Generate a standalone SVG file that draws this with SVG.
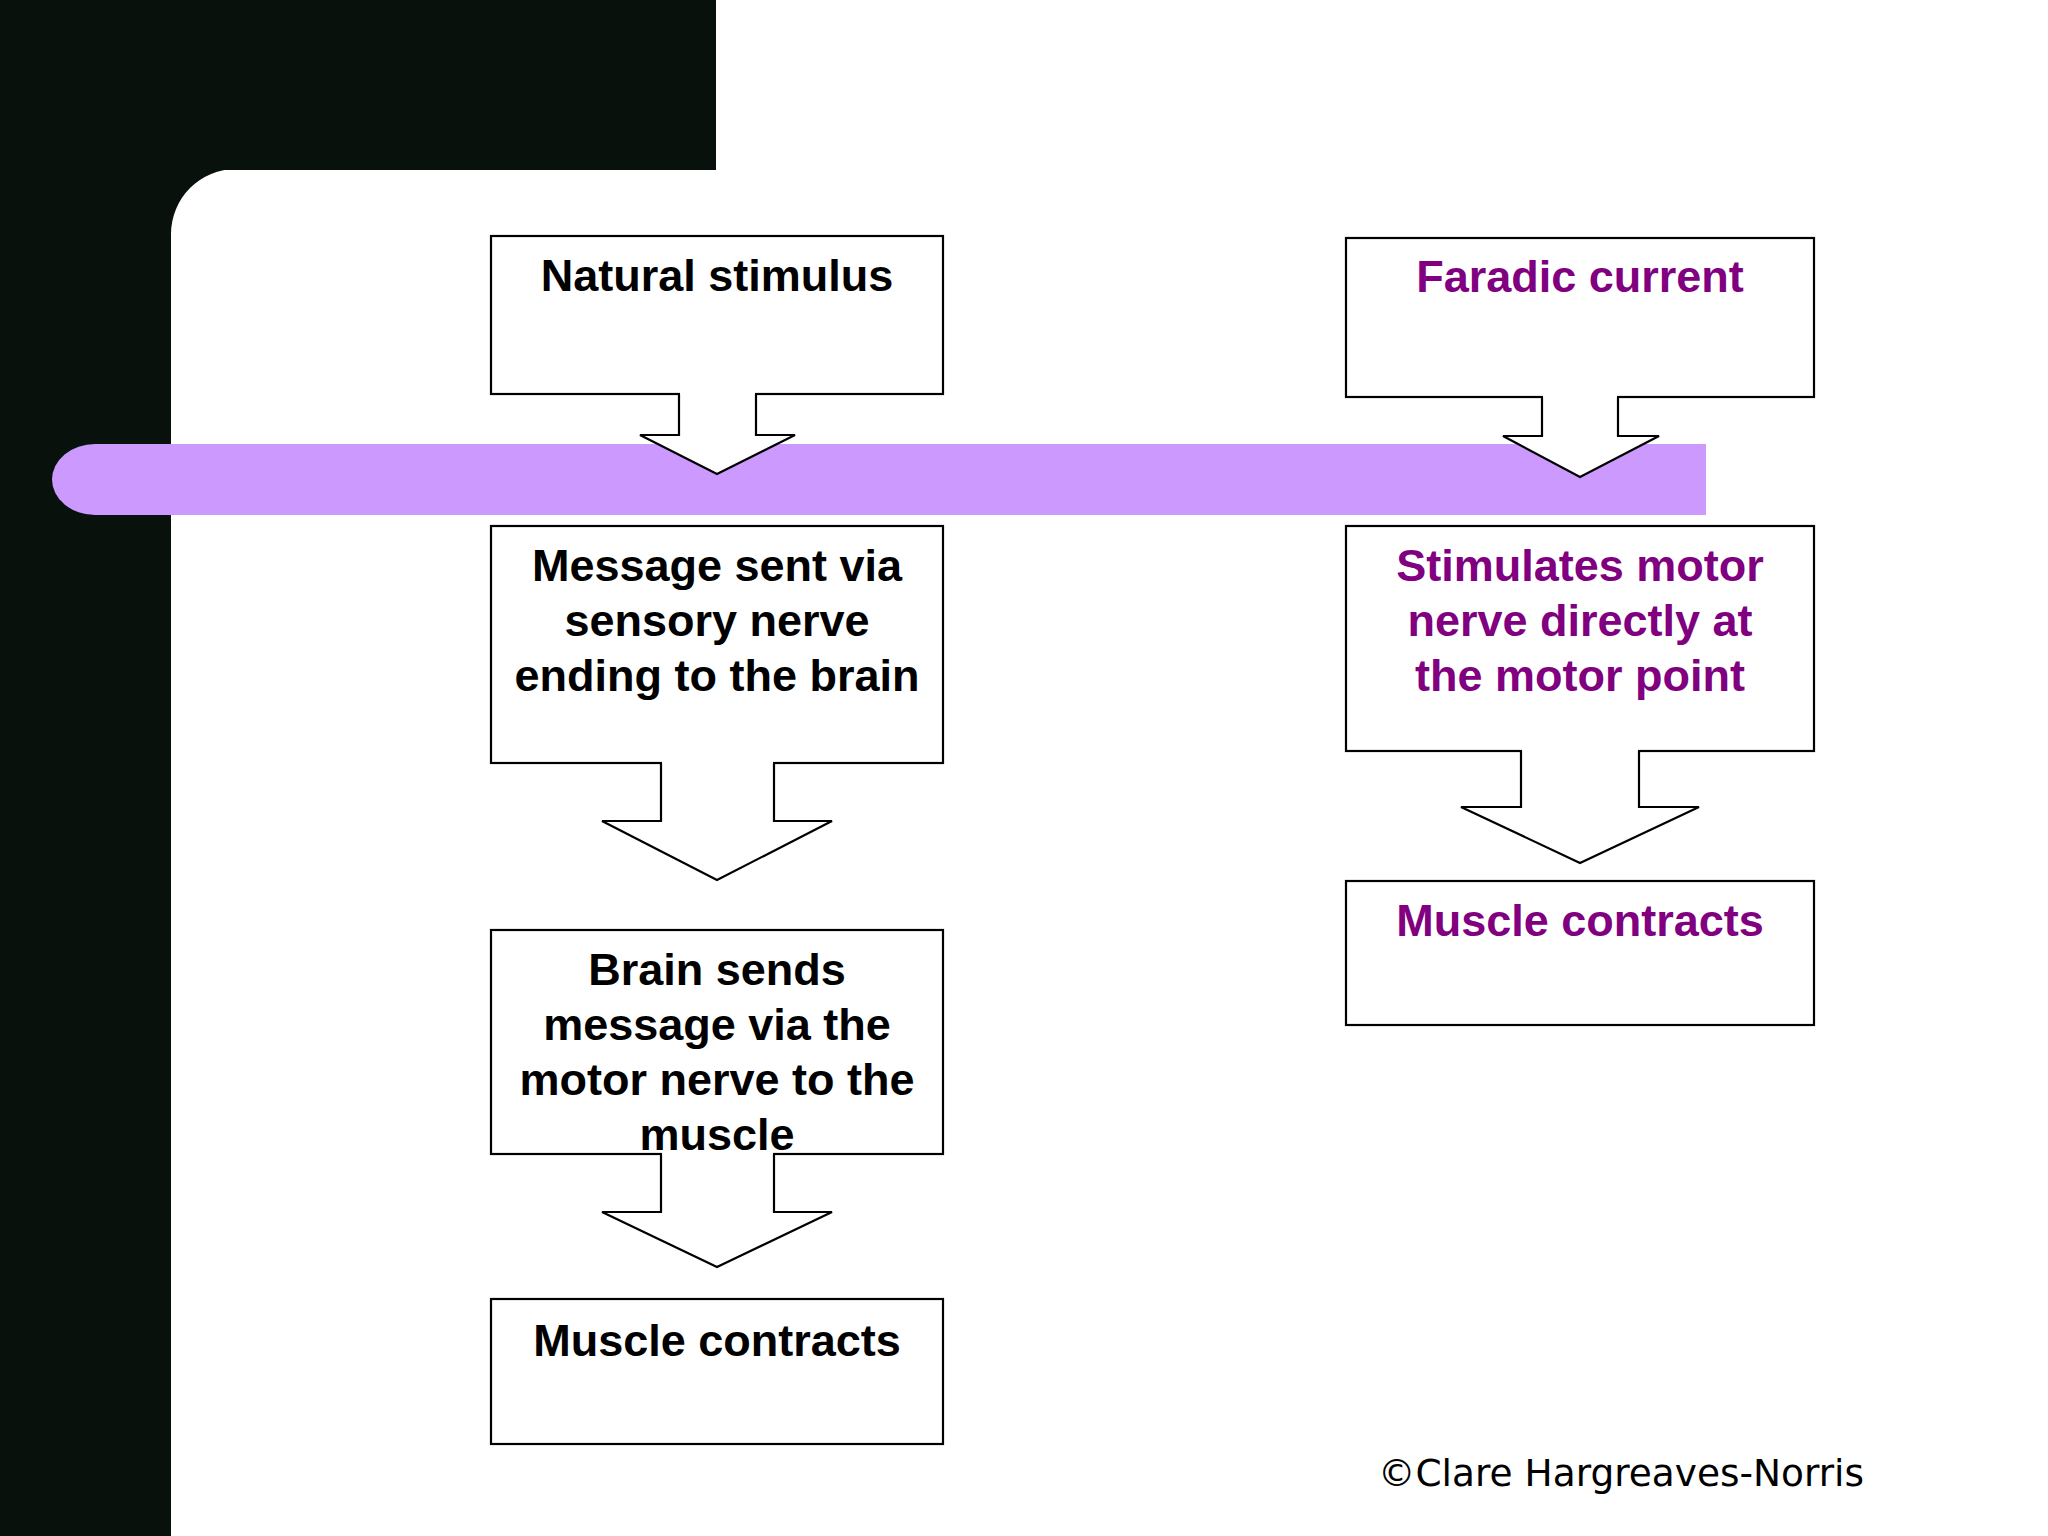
<svg xmlns="http://www.w3.org/2000/svg" width="2048" height="1536" viewBox="0 0 2048 1536">
<style>
.box{fill:#ffffff;stroke:#000000;stroke-width:2.2}
.arr{fill:none;stroke:#000000;stroke-width:2.2;stroke-linejoin:miter}
.cover{fill:#ffffff;stroke:none}
.t{font-family:"Liberation Sans",Arial,sans-serif;font-weight:bold;font-size:45px;text-anchor:middle}
.k{fill:#000000}
.p{fill:#800080}
.dark{fill:#08110c}
</style>
<rect x="0" y="0" width="2048" height="1536" fill="#ffffff"/>
<g id="background">
<rect class="dark" x="0" y="0" width="716" height="170"/>
<rect class="dark" x="0" y="0" width="171" height="1536"/>
<path class="dark" d="M171,169 H236 A65,65 0 0 0 171,234 Z"/>
<path d="M95,444 H1706 V515 H95 A43,35.5 0 0 1 95,444 Z" fill="#cc99ff"/>
</g>
<g id="n1">
<rect class="box" x="491" y="236" width="452" height="158"/>
<text class="t k" x="717" y="291">Natural stimulus</text>
</g>
<g id="n2">
<rect class="box" x="491" y="526" width="452" height="237"/>
<text class="t k" x="717" y="581">Message sent via</text>
<text class="t k" x="717" y="636">sensory nerve</text>
<text class="t k" x="717" y="691">ending to the brain</text>
</g>
<g id="n3">
<rect class="box" x="491" y="930" width="452" height="224"/>
</g>
<g id="n4">
<rect class="box" x="491" y="1299" width="452" height="145"/>
<text class="t k" x="717" y="1356">Muscle contracts</text>
</g>
<g id="r1">
<rect class="box" x="1346" y="238" width="468" height="159"/>
<text class="t p" x="1580" y="292">Faradic current</text>
</g>
<g id="r2">
<rect class="box" x="1346" y="526" width="468" height="225"/>
<text class="t p" x="1580" y="581">Stimulates motor</text>
<text class="t p" x="1580" y="636">nerve directly at</text>
<text class="t p" x="1580" y="691">the motor point</text>
</g>
<g id="r3">
<rect class="box" x="1346" y="881" width="468" height="144"/>
<text class="t p" x="1580" y="936">Muscle contracts</text>
</g>
<g id="connectors">
<path class="cover" d="M680,391 H755 V436 H795 L717,474 L640,436 H680 Z"/>
<path class="arr" d="M679,394 V435 H640 L717,474 L795,435 H756 V394"/>
<path class="cover" d="M662,760 H773 V822 H832 L717,880 L602,822 H662 Z"/>
<path class="arr" d="M661,763 V821 H602 L717,880 L832,821 H774 V763"/>
<path class="cover" d="M662,1151 H773 V1213 H832 L717,1267 L602,1213 H662 Z"/>
<path class="arr" d="M661,1154 V1212 H602 L717,1267 L832,1212 H774 V1154"/>
<path class="cover" d="M1543,394 H1617 V437 H1659 L1580,477 L1503,437 H1543 Z"/>
<path class="arr" d="M1542,397 V436 H1503 L1580,477 L1659,436 H1618 V397"/>
<path class="cover" d="M1522,748 H1638 V808 H1699 L1580,863 L1461,808 H1522 Z"/>
<path class="arr" d="M1521,751 V807 H1461 L1580,863 L1699,807 H1639 V751"/>
</g>
<g id="n3text">
<text class="t k" x="717" y="985">Brain sends</text>
<text class="t k" x="717" y="1040">message via the</text>
<text class="t k" x="717" y="1095">motor nerve to the</text>
<text class="t k" x="717" y="1150">muscle</text>
</g>
<text x="1378" y="1486" font-family="'DejaVu Sans',sans-serif" font-size="38" fill="#000000" textLength="486" lengthAdjust="spacingAndGlyphs">©Clare Hargreaves-Norris</text>
</svg>
